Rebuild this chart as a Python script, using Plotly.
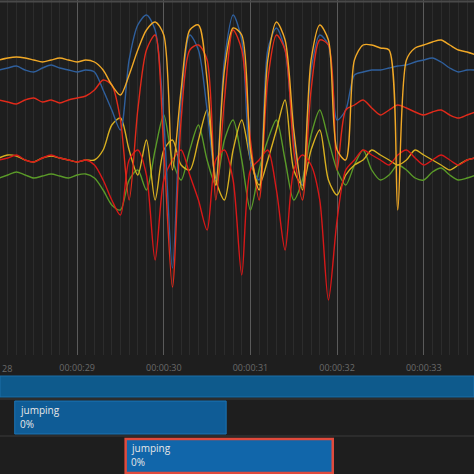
import plotly.graph_objects as go

t = [round(28.1 + 0.1 * i, 2) for i in range(56)]
orange_upper = [60,58,57,58,60,62,60,58,60,62,60,62,70,85,95,75,50,30,22,35,170,90,30,25,80,185,70,28,35,150,190,60,22,40,130,190,60,25,40,150,160,60,45,45,48,50,210,60,48,45,42,40,45,50,52,55]
blue = [70,68,66,70,72,68,65,68,70,72,70,72,90,110,130,60,25,15,30,120,268,100,35,50,110,180,60,15,40,160,180,50,28,50,140,185,70,35,45,120,110,75,72,70,70,68,66,65,62,60,58,62,68,72,70,70]
red_upper = [100,102,104,100,98,102,100,103,100,98,96,90,80,85,120,200,110,50,35,150,287,120,50,45,60,200,100,30,50,140,200,80,35,50,150,200,90,40,45,170,110,105,100,108,115,110,105,108,112,115,112,110,115,118,115,112]
red_lower = [160,158,155,160,162,158,155,158,160,162,160,165,180,200,215,160,150,175,260,180,160,150,175,200,230,160,150,180,275,170,160,150,190,250,170,155,165,200,300,220,170,160,150,155,160,165,155,150,158,165,160,155,160,165,160,158]
green = [178,175,172,175,178,176,174,176,178,175,174,178,190,205,210,180,170,190,150,115,160,180,150,125,160,185,140,120,160,210,170,140,120,160,200,180,135,110,140,170,185,165,150,170,180,175,165,170,178,180,172,168,175,180,178,175]
yellow_lower = [158,155,156,160,162,158,156,158,160,162,160,160,150,125,118,150,175,140,200,150,140,165,170,140,110,180,200,150,120,160,185,160,130,100,170,185,150,130,180,195,175,165,160,150,155,160,165,160,150,155,160,165,170,165,160,158]

tick_vals = [29, 30, 31, 32, 33]
tick_text = ["00:00:29", "00:00:30", "00:00:31", "00:00:32", "00:00:33"]
segments = [("jumping", "0%", 28.28, 30.72), ("jumping", "0%", 29.56, 31.95)]

series = [
    (green, "#5a9a28"),
    (yellow_lower, "#d8b020"),
    (red_lower, "#d81818"),
    (blue, "#2f5f9c"),
    (red_upper, "#e02a1a"),
    (orange_upper, "#f0a826"),
]

fig = go.Figure()
for ys, c in series:
    fig.add_trace(go.Scatter(x=t, y=ys, mode="lines", line=dict(color=c, width=1.4, shape="spline", smoothing=0.8),
                             showlegend=False, hoverinfo="skip"))

H = 474.0
def py(p):
    return 1 - p / H

shapes = [
    dict(type="rect", xref="paper", yref="paper", x0=0, x1=1, y0=py(397), y1=py(376),
         fillcolor="#0e5a8c", line=dict(color="#1a6ea8", width=1), layer="below"),
    dict(type="line", xref="paper", yref="paper", x0=0, x1=1, y0=py(399), y1=py(399), line=dict(color="#3a3a3a", width=1)),
    dict(type="line", xref="paper", yref="paper", x0=0, x1=1, y0=py(436), y1=py(436), line=dict(color="#3a3a3a", width=1)),
    dict(type="line", xref="paper", yref="paper", x0=0, x1=1, y0=py(1.5), y1=py(1.5), line=dict(color="#4a4a4a", width=2)),
]
annotations = []
rows = [(401, 434, "#0f5c96", "#1c74b4", 1), (439, 473, "#1166aa", "#e04a3c", 2.5)]
fnt = dict(color="#e8e8e8", size=10, family="Open Sans")
for (lab, pct, a, b), (y0, y1, fc, lc, lw) in zip(segments, rows):
    shapes.append(dict(type="rect", xref="x", yref="paper", x0=a, x1=b, y0=py(y1), y1=py(y0),
                       fillcolor=fc, line=dict(color=lc, width=lw)))
    annotations.append(dict(x=a + 0.04, y=py(y0 + 9), xref="x", yref="paper", xanchor="left", yanchor="middle",
                            text=lab, showarrow=False, font=fnt))
    annotations.append(dict(x=a + 0.04, y=py(y0 + 23), xref="x", yref="paper", xanchor="left", yanchor="middle",
                            text=pct, showarrow=False, font=fnt))
annotations.append(dict(x=0, y=py(368), xref="paper", yref="paper", xanchor="left", yanchor="middle",
                        text="28", showarrow=False, font=dict(color="#6a6a6a", size=9, family="Open Sans")))

fig.update_layout(
    width=474, height=474, margin=dict(l=0, r=0, t=0, b=0, autoexpand=False),
    paper_bgcolor="#1e1e1e", plot_bgcolor="#1e1e1e",
    shapes=shapes, annotations=annotations,
    xaxis=dict(range=[28.11, 33.58], tickvals=tick_vals, ticktext=tick_text, showgrid=True, automargin=False,
               gridcolor="#5a5a5a", gridwidth=1, zeroline=False, showline=False, ticklabelstandoff=6,
               tickfont=dict(color="#6a6a6a", size=9, family="Open Sans"), ticks="",
               minor=dict(dtick=0.1, tick0=28, showgrid=True, gridcolor="#2c2c2c", gridwidth=1)),
    yaxis=dict(domain=[py(355), 1], range=[355, 0], showgrid=False, zeroline=False, automargin=False,
               showticklabels=False, showline=False),
)
fig.write_html("out.html", config={"displayModeBar": False},
               post_script="document.body.style.margin='0';document.body.style.overflow='hidden';document.body.style.background='#1e1e1e';")
